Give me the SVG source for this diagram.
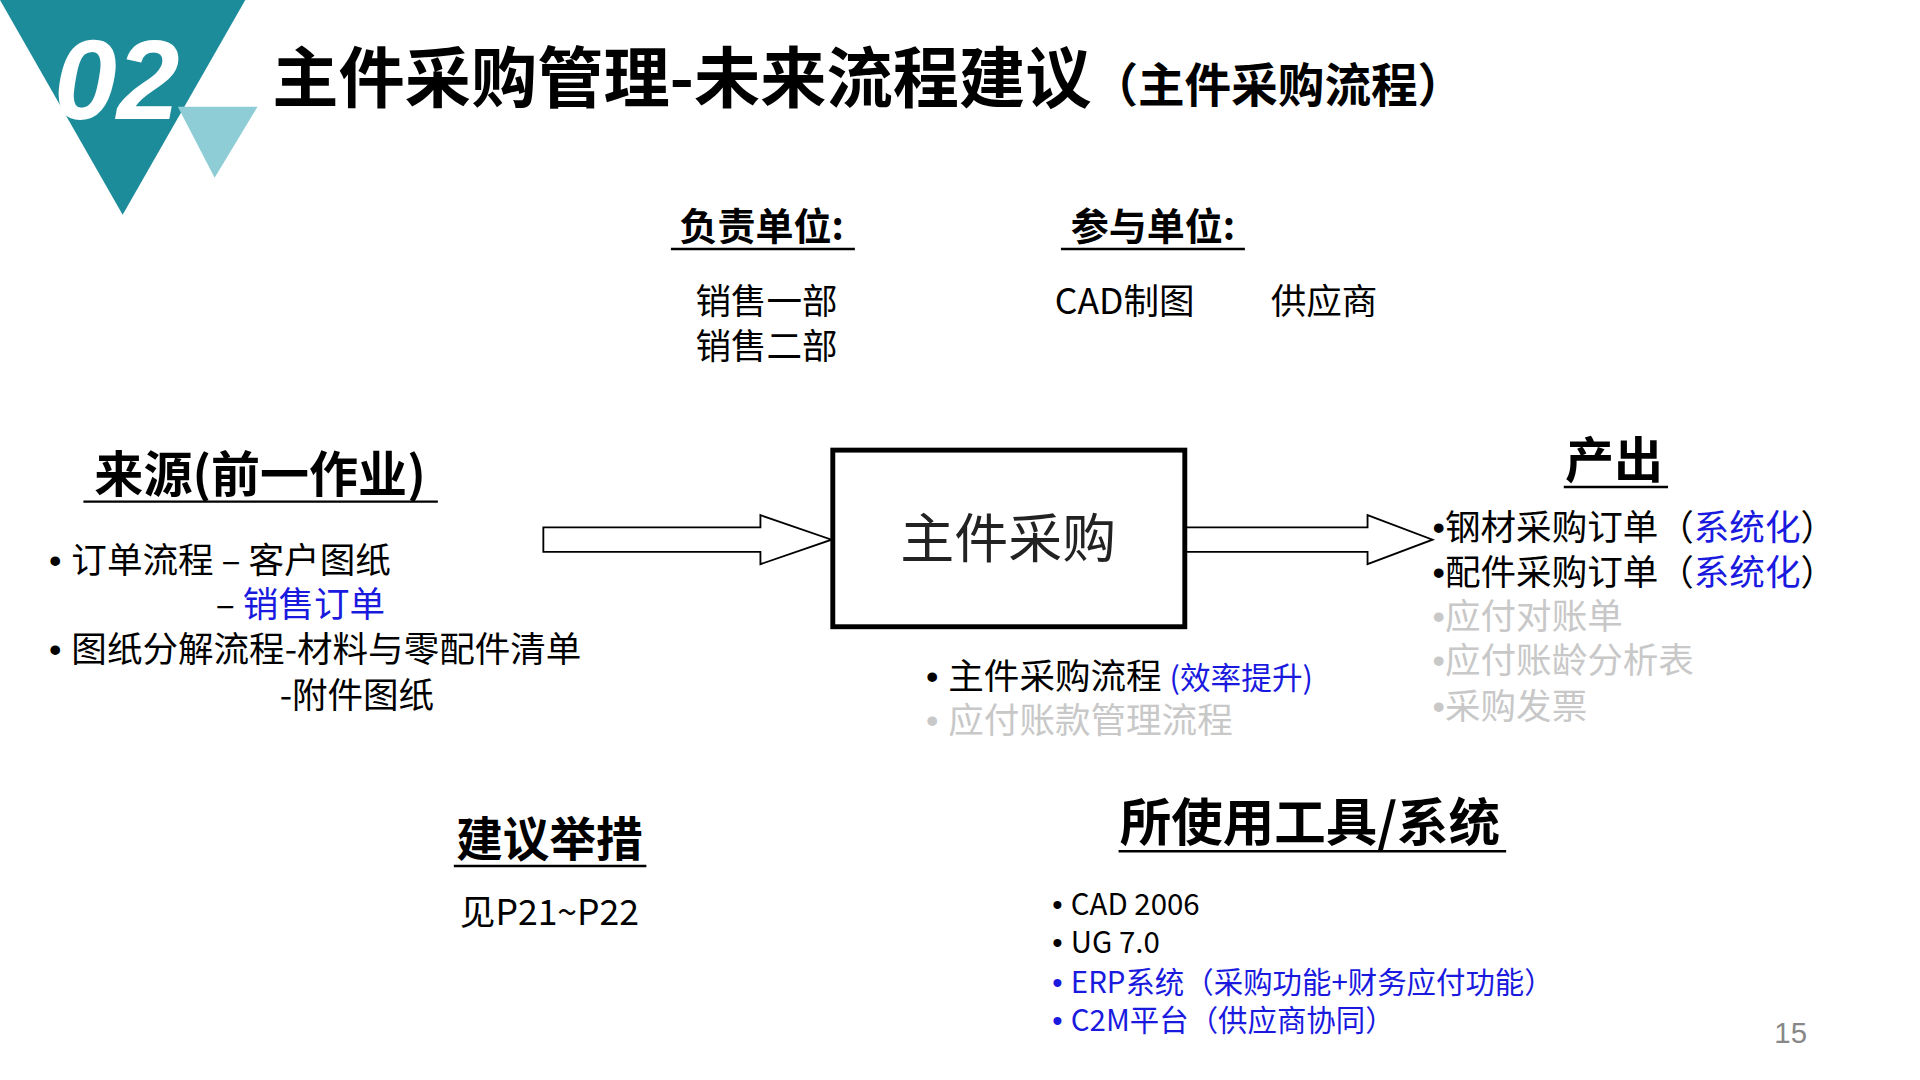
<svg xmlns="http://www.w3.org/2000/svg" width="1920" height="1080" viewBox="0 0 1920 1080">
<style>
text{font-family:"Microsoft YaHei","Noto Sans CJK SC",sans-serif;fill:#000}
.h{font-weight:bold}
.b{fill:#1a1adf}
.g{fill:#c8c8c8}
.bl{font-family:"Liberation Sans",sans-serif}
.ul{stroke:#000;stroke-width:2}
.arr{fill:#fff;stroke:#000;stroke-width:1.5}
</style>
<rect width="1920" height="1080" fill="#fff"/>
<g transform="scale(1.2265)">
<g id="badge">
<polygon points="0,0 200,0 100,175" fill="#1c8c9b"/>
<polygon points="145,87 210,87 175,145" fill="#8ecdd5"/>
<text x="44" y="97" font-size="92" font-weight="bold" font-style="italic" style="fill:#fff;font-family:'Liberation Sans',sans-serif">02</text>
</g>
<g id="title">
<text x="222" y="83" font-size="54" class="h">主件采购管理-未来流程建议<tspan font-size="38">（主件采购流程）</tspan></text>
</g>
<g id="resp">
<text x="621" y="196" font-size="31" class="h" text-anchor="middle">负责单位:</text>
<line x1="547" y1="203" x2="697" y2="203" class="ul"/>
<text x="625" y="256" font-size="29" text-anchor="middle">销售一部</text>
<text x="625" y="293" font-size="29" text-anchor="middle">销售二部</text>
</g>
<g id="part">
<text x="940" y="196" font-size="31" class="h" text-anchor="middle">参与单位:</text>
<line x1="865" y1="203" x2="1015" y2="203" class="ul"/>
<text x="860" y="256" font-size="29">CAD制图</text>
<text x="1036" y="256" font-size="29">供应商</text>
</g>
<g id="source">
<text x="212" y="401" font-size="40" class="h" text-anchor="middle">来源(前一作业)</text>
<line x1="68" y1="409" x2="357" y2="409" class="ul"/>
<text x="40" y="467" font-size="29"><tspan class="bl">• </tspan>订单流程 – 客户图纸</text>
<text x="176" y="503" font-size="29">– <tspan class="b">销售订单</tspan></text>
<text x="40" y="540" font-size="29"><tspan class="bl">• </tspan>图纸分解流程-材料与零配件清单</text>
<text x="228" y="577" font-size="29">-附件图纸</text>
</g>
<g id="connectors">
<polygon class="arr" points="443,430 620,430 620,420 678,440 620,460 620,450 443,450"/>
<polygon class="arr" points="967,430 1115,430 1115,420 1168,440 1115,460 1115,450 967,450"/>
</g>
<g id="main">
<rect x="679" y="367" width="287" height="144" fill="#fff" stroke="#000" stroke-width="4"/>
<text x="822" y="455" font-size="44" text-anchor="middle" style="fill:#222">主件采购</text>
<text x="755" y="562" font-size="29"><tspan class="bl">• </tspan>主件采购流程 <tspan class="b" font-size="25">(效率提升)</tspan></text>
<text x="755" y="598" font-size="29" class="g"><tspan class="bl">• </tspan>应付账款管理流程</text>
</g>
<g id="output">
<text x="1316" y="390" font-size="40" class="h" text-anchor="middle">产出</text>
<line x1="1275" y1="397" x2="1360" y2="397" class="ul"/>
<text x="1168" y="440" font-size="29"><tspan class="bl">•</tspan>钢材采购订单（<tspan class="b">系统化</tspan>）</text>
<text x="1168" y="477" font-size="29"><tspan class="bl">•</tspan>配件采购订单（<tspan class="b">系统化</tspan>）</text>
<text x="1168" y="513" font-size="29" class="g"><tspan class="bl">•</tspan>应付对账单</text>
<text x="1168" y="549" font-size="29" class="g"><tspan class="bl">•</tspan>应付账龄分析表</text>
<text x="1168" y="586" font-size="29" class="g"><tspan class="bl">•</tspan>采购发票</text>
</g>
<g id="measures">
<text x="448" y="698" font-size="38" class="h" text-anchor="middle">建议举措</text>
<line x1="370" y1="706" x2="527" y2="706" class="ul"/>
<text x="448" y="754" font-size="29" text-anchor="middle">见P21~P22</text>
</g>
<g id="tools">
<text x="1068" y="686" font-size="42" class="h" text-anchor="middle">所使用工具/系统</text>
<line x1="912" y1="694" x2="1228" y2="694" class="ul"/>
<text x="858" y="746" font-size="24"><tspan class="bl">• </tspan>CAD 2006</text>
<text x="858" y="777" font-size="24"><tspan class="bl">• </tspan>UG 7.0</text>
<text x="858" y="810" font-size="24" class="b"><tspan class="bl">• </tspan>ERP系统（采购功能+财务应付功能）</text>
<text x="858" y="841" font-size="24" class="b"><tspan class="bl">• </tspan>C2M平台（供应商协同）</text>
</g>
<text x="1460" y="850" font-size="24" text-anchor="middle" style="fill:#888;font-family:'Liberation Sans',sans-serif">15</text>
</g>
</svg>
